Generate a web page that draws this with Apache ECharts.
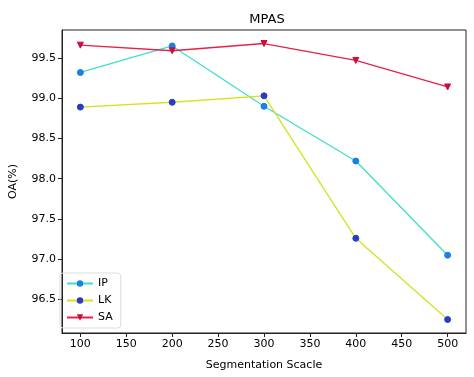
<!DOCTYPE html>
<html>
<head>
<meta charset="utf-8">
<script src="https://cdn.jsdelivr.net/npm/echarts@6/dist/echarts.min.js"></script>
<style>
  html, body { margin: 0; padding: 0; background: #fff; }
  #main { width: 474px; height: 377px; }
</style>
</head>
<body>
<div id="main"></div>
<script>
// segmentation scales (x)
const scales = [100, 200, 300, 400, 500];
// OA(%) per method
const ipValues = [99.32, 99.65, 98.90, 98.22, 97.05];
const lkValues = [98.89, 98.95, 99.03, 97.26, 96.25];
const saValues = [99.66, 99.59, 99.68, 99.47, 99.14];
// tick labels
const xTicks = [100, 150, 200, 250, 300, 350, 400, 450, 500];
const yTicks = [96.5, 97.0, 97.5, 98.0, 98.5, 99.0, 99.5];

const font = 'DejaVu Sans';

const pairs = (vals) => scales.map((s, i) => [s, vals[i]]);

const makeSeries = (name, vals, lineColor, markColor, symbol) => ({
    name: name,
    type: 'line',
    data: pairs(vals),
    symbol: symbol,
    symbolSize: symbol === 'triangle' ? 6 : 6,
    symbolRotate: symbol === 'triangle' ? 180 : 0,
    lineStyle: { color: lineColor, width: 1.3 },
    itemStyle: { color: markColor, borderColor: markColor },
    emphasis: { disabled: true },
    animation: false,
    clip: false
});

const chart = echarts.init(document.getElementById('main'));
chart.setOption({
    backgroundColor: '#fff',
    title: {
        text: 'MPAS',
        left: 262,
        top: 8,
        textAlign: 'center',
        textStyle: { fontFamily: font, fontSize: 13, fontWeight: 'normal', color: '#000' }
    },
    grid: {
        left: 58, right: 8, top: 30, bottom: 44,
        show: true, borderColor: '#222', borderWidth: 1
    },
    legend: {
        orient: 'vertical',
        left: 60,
        top: 273,
        itemWidth: 26,
        itemHeight: 8,
        itemGap: 6,
        padding: [5, 8, 5, 6],
        borderColor: '#ddd',
        borderWidth: 1,
        borderRadius: 3,
        textStyle: { fontFamily: font, fontSize: 11, color: '#000' },
        data: ['IP', 'LK', 'SA']
    },
    xAxis: {
        type: 'value',
        min: 80,
        max: 520,
        name: 'Segmentation Scacle',
        nameLocation: 'middle',
        nameGap: 27,
        nameTextStyle: { fontFamily: font, fontSize: 11, color: '#000' },
        axisLine: { show: true, lineStyle: { color: '#222' } },
        axisTick: { show: true, customValues: xTicks, length: 4, lineStyle: { color: '#222' } },
        axisLabel: { customValues: xTicks, fontFamily: font, fontSize: 11, color: '#000', margin: 6 },
        splitLine: { show: false }
    },
    yAxis: {
        type: 'value',
        min: 96.083,
        max: 99.848,
        name: 'OA(%)',
        nameLocation: 'middle',
        nameGap: 43,
        nameTextStyle: { fontFamily: font, fontSize: 11, color: '#000' },
        axisLine: { show: true, lineStyle: { color: '#222' } },
        axisTick: { show: true, customValues: yTicks, length: 4, lineStyle: { color: '#222' } },
        axisLabel: {
            customValues: yTicks,
            formatter: (v) => v.toFixed(1),
            fontFamily: font, fontSize: 11, color: '#000', margin: 6
        },
        splitLine: { show: false }
    },
    series: [
        makeSeries('IP', ipValues, '#3fe0c8', '#1a7fe8', 'circle'),
        makeSeries('LK', lkValues, '#d6e21c', '#2a3cc0', 'circle'),
        makeSeries('SA', saValues, '#e8204a', '#c8103a', 'triangle')
    ]
});
</script>
</body>
</html>
